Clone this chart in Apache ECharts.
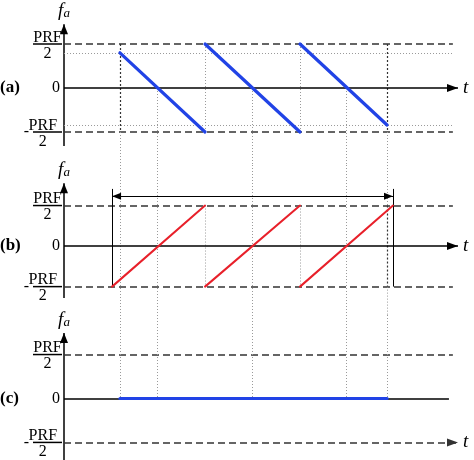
<!DOCTYPE html>
<html><head><meta charset="utf-8">
<script src="https://cdn.jsdelivr.net/npm/echarts@6/dist/echarts.min.js"></script>
<style>html,body{margin:0;padding:0;background:#fff}#c{width:474px;height:460px}</style>
</head><body><div id="c"></div>
<script>
// ---------------- DATA (t: arbitrary time units, f_a: units of PRF/2) ----------------
const panelLabels = ['(a)', '(b)', '(c)'];
const tickValues = [-1, 0, 1];              // -PRF/2, 0, PRF/2
// (a) aliased azimuth frequency (blue sawtooth)
const blueSegA = [
  [[1.42, 0.80], [3.58, -1]],
  [[3.58, 1], [5.99, -1]],
  [[5.99, 1], [8.20, -0.84]]
];
// (b) compensation ramps (red)
const redSegB = [
  [[1.22, -1], [3.58, 1]],
  [[3.58, -1], [5.99, 1]],
  [[5.99, -1], [8.35, 1]]
];
// (c) result (blue, flat at zero)
const blueSegC = [[[1.42, 0], [8.20, 0]]];
const dottedLevelsA = [0.80, -0.84];        // start / end frequency levels in (a)
const zeroCrossT = [2.36, 4.77, 7.16];      // zero crossings
const wrapT = [3.58, 5.99];                 // wrap instants
const startT = 1.42, endT = 8.20;           // start / end of the blue signal
const spanB = [1.22, 8.35];                 // span arrow in (b)
const arrowLevelB = 1.23;

// ---------------- LAYOUT ----------------
const GRIDS = [
  {top: 0,   height: 165, ymin: -1.75, ymax: 2.0, yAxisExt: [-1.32, 1.45]},
  {top: 165, height: 150, ymin: -1.7,  ymax: 2.0, yAxisExt: [-1.28, 1.55]},
  {top: 315, height: 145, ymin: -1.4,  ymax: 1.9, yAxisExt: [-1.4, 1.49]}
];
const X_MAX = 10, GUIDE_END = 9.87;
const serif = 'Liberation Serif';
const BLUE = '#2143e6', RED = '#e8202a';

function mlSeries(gi, lines, lineStyle, opts) {
  opts = opts || {};
  const sym = opts.symbol || ['none', 'none'];
  const size = opts.symbolSize || [8, 10];
  const end = (c, k) => sym[k] === 'none' ? {coord: c, symbol: 'none'}
    : {coord: c, symbol: sym[k], symbolSize: size, symbolOffset: [0, '50%']};
  return {
    type: 'line', xAxisIndex: gi, yAxisIndex: gi, data: [], silent: true, z: opts.z || 2,
    markLine: {
      silent: true, animation: false,
      symbol: ['none', 'none'],
      label: opts.label || {show: false},
      lineStyle: Object.assign({type: 'solid'}, lineStyle),
      emphasis: {disabled: true},
      data: lines.map(l => [end(l[0], 0), end(l[1], 1)])
    }
  };
}
function segSeries(gi, seg, color, width) {
  return {type: 'line', xAxisIndex: gi, yAxisIndex: gi, data: seg, symbol: 'none', showSymbol: false,
          silent: true, z: 5, clip: false, lineStyle: {color: color, width: width, cap: 'round'}};
}
const vline = (t, y0, y1) => [[t, y0], [t, y1]];
const hline = (y, t0, t1) => [[t0, y], [t1, y]];

const lightDot = {color: '#9a9a9a', width: 1, type: [1, 2]};
const darkDot = {color: '#333', width: 1.2, type: [2, 2]};
const dash = {color: '#333', width: 1.5, type: [7, 4]};
const axisStyle = {color: '#000', width: 1.5, type: 'solid'};

const faLabel = {show: true, position: 'end', distance: 4, formatter: '{f|f}{s|a}',
  rich: {f: {fontFamily: serif, fontStyle: 'italic', fontSize: 19, color: '#000', lineHeight: 18},
         s: {fontFamily: serif, fontStyle: 'italic', fontSize: 13, color: '#000', lineHeight: 18, verticalAlign: 'bottom'}}};
const tLabel = {show: true, position: 'end', distance: 5, formatter: 't', fontFamily: serif,
  fontStyle: 'italic', fontSize: 19, color: '#000', padding: [16, 0, 0, 0]};

const series = [];
GRIDS.forEach((g, gi) => {
  // vertical f_a axis with arrow + name
  series.push(mlSeries(gi, [vline(0, g.yAxisExt[0], g.yAxisExt[1])], axisStyle,
    {symbol: ['none', 'triangle'], symbolSize: [8, 10], label: faLabel, z: 6}));
});
// ----- panel (a)
series.push(mlSeries(0, [hline(1, 0, GUIDE_END), hline(-1, 0, GUIDE_END)], dash, {z: 3}));
series.push(mlSeries(0, dottedLevelsA.map(v => hline(v, 0, GUIDE_END))
  .concat(zeroCrossT.map(t => vline(t, 0, GRIDS[0].ymin)))
  .concat(wrapT.map(t => vline(t, 1, -1)))
  .concat([vline(startT, -1, GRIDS[0].ymin), vline(endT, -1, GRIDS[0].ymin)]), lightDot, {z: 2}));
series.push(mlSeries(0, [vline(startT, 1, -1), vline(endT, 1, -1)], darkDot, {z: 2}));
series.push(mlSeries(0, [hline(0, 0, X_MAX)], axisStyle,
  {symbol: ['none', 'triangle'], symbolSize: [8, 11], label: tLabel, z: 6}));
blueSegA.forEach(s => series.push(segSeries(0, s, BLUE, 3.2)));
// ----- panel (b)
series.push(mlSeries(1, [hline(1, 0, GUIDE_END), hline(-1, 0, GUIDE_END)], dash, {z: 3}));
series.push(mlSeries(1, [startT].concat(zeroCrossT).map(t => vline(t, GRIDS[1].ymax, GRIDS[1].ymin))
  .concat(wrapT.map(t => vline(t, 1, -1)))
  .concat([vline(endT, GRIDS[1].ymax, 1), vline(endT, -1, GRIDS[1].ymin)]), lightDot, {z: 2}));
series.push(mlSeries(1, [vline(endT, 1, -1)], darkDot, {z: 2}));
series.push(mlSeries(1, [vline(spanB[0], 1.41, -1), vline(spanB[1], 1.41, -1)], {color: '#000', width: 1}, {z: 4}));
series.push(mlSeries(1, [hline(arrowLevelB, spanB[0], spanB[1])], {color: '#000', width: 1.2},
  {symbol: ['triangle', 'triangle'], symbolSize: [7, 9], z: 4}));
series.push(mlSeries(1, [hline(0, 0, X_MAX)], axisStyle,
  {symbol: ['none', 'triangle'], symbolSize: [8, 11], label: tLabel, z: 6}));
redSegB.forEach(s => series.push(segSeries(1, s, RED, 2)));
// ----- panel (c)
series.push(mlSeries(2, [hline(1, 0, GUIDE_END)], dash, {z: 3}));
series.push(mlSeries(2, [hline(-1, 0, X_MAX)], dash,
  {symbol: ['none', 'triangle'], symbolSize: [8, 11], label: tLabel, z: 6}));
series.push(mlSeries(2, [startT].concat(zeroCrossT, [endT]).map(t => vline(t, GRIDS[2].ymax, 0)), lightDot, {z: 2}));
series.push(mlSeries(2, [hline(0, 0, 9.77)], axisStyle, {z: 4}));
blueSegC.forEach(s => series.push(segSeries(2, s, BLUE, 3.2)));

const labelRich = {
  n: {fontFamily: serif, fontSize: 16, color: '#000', width: 29, align: 'center', lineHeight: 14, padding: [3, 0, 0, 0]},
  bar: {width: 29, height: 1.5, lineHeight: 2, backgroundColor: '#000', fontSize: 1},
  m: {fontFamily: serif, fontSize: 16, color: '#000', lineHeight: 2, padding: [0, 4, 0, 0]},
  d: {fontFamily: serif, fontSize: 16, color: '#000', width: 29, align: 'center', lineHeight: 14, padding: [3, 0, 0, 0]},
  p: {fontFamily: serif, fontSize: 17, fontWeight: 'bold', color: '#000', width: 52, align: 'left'},
  z: {fontFamily: serif, fontSize: 16, color: '#000', padding: [0, 2, 0, 0]}
};

const option = {
  animation: false,
  backgroundColor: '#fff',
  grid: GRIDS.map(g => ({left: 64, right: 474 - 458, top: g.top, height: g.height, outerBoundsMode: 'none', containLabel: false})),
  xAxis: GRIDS.map((g, i) => ({type: 'value', gridIndex: i, min: 0, max: X_MAX, show: false})),
  yAxis: GRIDS.map((g, i) => ({
    type: 'value', gridIndex: i, min: g.ymin, max: g.ymax,
    axisLine: {show: false}, axisTick: {show: false}, splitLine: {show: false},
    axisLabel: {
      customValues: tickValues, margin: 2, rich: labelRich,
      formatter: v => v === 0 ? '{p|' + panelLabels[i] + '}{z|0}'
        : v > 0 ? '{n|PRF}\n{bar| }\n{d|2}' : '{n|PRF}\n{m|-}{bar| }\n{d|2}'
    }
  })),
  series: series
};
const chart = echarts.init(document.getElementById('c'), null, {renderer: 'canvas'});
chart.setOption(option);
</script></body></html>
